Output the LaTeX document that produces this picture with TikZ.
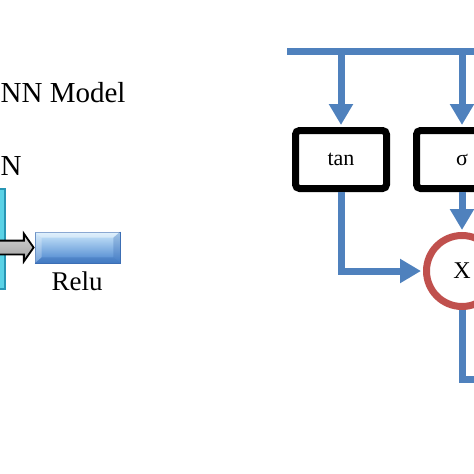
\documentclass[tikz,border=0pt]{standalone}
\usepackage{fontspec}
\setmainfont{Liberation Serif}
\usetikzlibrary{arrows.meta,shapes.arrows,calc}
\definecolor{flowblue}{RGB}{79,129,189}
\definecolor{ringred}{RGB}{192,80,77}
\definecolor{barfill}{RGB}{90,210,230}
\definecolor{barline}{RGB}{40,150,180}
\definecolor{relutop}{RGB}{205,233,252}
\definecolor{relubot}{RGB}{70,130,205}
\definecolor{reluedge}{RGB}{60,110,180}
\begin{document}
\begin{tikzpicture}[x=1pt,y=-1pt,
  flow/.style={flowblue, line width=7pt, -{Triangle[width=23pt,length=21pt]}},
  flowline/.style={flowblue, line width=7pt},
  gatebox/.style={draw=black, line width=7pt, rounded corners=4pt, minimum width=91pt, minimum height=58pt, inner sep=0pt, font=\fontsize{22}{22}\selectfont},
  ring/.style={circle, draw=ringred, line width=7pt, minimum size=71pt, inner sep=0pt, font=\fontsize{24}{24}\selectfont},
  bigtext/.style={inner sep=0pt, font=\fontsize{29}{29}\selectfont},
  relulabel/.style={inner sep=0pt, font=\fontsize{27}{27}\selectfont},
  cyanbar/.style={draw=barline, fill=barfill, line width=2pt, minimum width=26pt, minimum height=100pt, inner sep=0pt},
  blockarrow/.style={single arrow, draw=black, line width=1.8pt, top color=gray!35, bottom color=gray!75, middle color=gray!55, inner sep=6pt, single arrow head extend=7pt, single arrow tip angle=110, minimum height=40pt},
  relubox/.style={top color=relutop, bottom color=relubot, draw=reluedge, line width=0.6pt, minimum width=85pt, minimum height=31pt, inner sep=0pt}
]
\useasboundingbox (0,0) rectangle (474,474);
\clip (0,0) rectangle (474,474);

% left part
\node[bigtext, anchor=base west] (model) at (0.5,102) {NN Model};
\node[bigtext, anchor=base west] (nlabel) at (0.5,175) {N};
\node[cyanbar] (bar) at (-8,239) {};
\node[relubox] (relu) at (77.5,247.5) {};
\fill[white, opacity=0.4] (relu.north west) -- (relu.north east) -- ($(relu.north east)+(-7,6)$) -- ($(relu.north west)+(7,6)$) -- cycle;
\fill[white, opacity=0.25] (relu.north west) -- ($(relu.north west)+(7,6)$) -- ($(relu.south west)+(7,-6)$) -- (relu.south west) -- cycle;
\fill[reluedge, opacity=0.4] (relu.south west) -- (relu.south east) -- ($(relu.south east)+(-7,-6)$) -- ($(relu.south west)+(7,-6)$) -- cycle;
\fill[reluedge, opacity=0.3] (relu.north east) -- ($(relu.north east)+(-7,6)$) -- ($(relu.south east)+(-7,-6)$) -- (relu.south east) -- cycle;
\node[blockarrow, anchor=tip] (barrow) at (relu.west) {};
\node[relulabel, anchor=base] (relutxt) at (77,290) {Relu};

% right part
\node[gatebox] (tanbox) at (341,159.5) {tan};
\node[gatebox] (sigbox) at (462,159.5) {σ};
\node[ring] (mult) at (462,271) {X};
\coordinate (topL) at (287,51);
\coordinate (topR) at (480,51);
\coordinate (outR) at (480,379);

\draw[flowline] (topL) -- (topR);
\draw[flow, shorten >=2pt] (tanbox.north |- topL) -- (tanbox.north);
\draw[flow, shorten >=2pt] (sigbox.north |- topL) -- (sigbox.north);
\draw[flow, shorten >=2pt] (tanbox.south) |- (mult.west);
\draw[flow, shorten >=2pt] (sigbox.south) -- (mult.north);
\draw[flowline] (mult.south) |- (outR);
\end{tikzpicture}
\end{document}
